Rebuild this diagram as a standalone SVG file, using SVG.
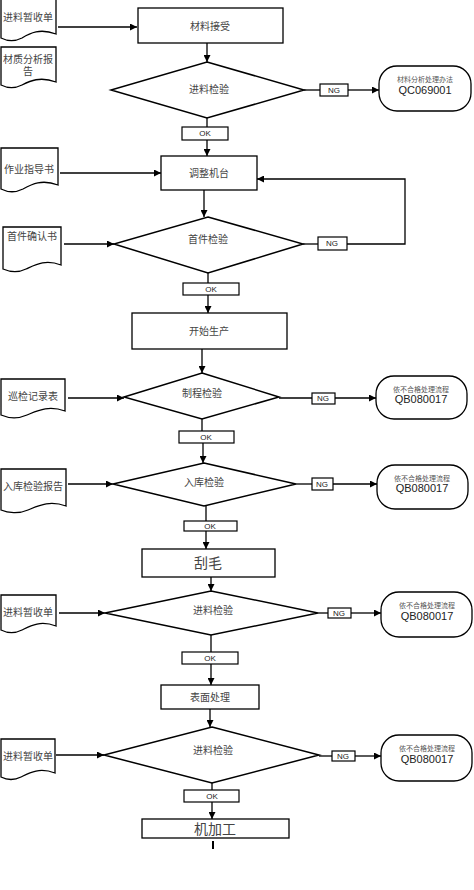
<svg xmlns="http://www.w3.org/2000/svg" width="474" height="890" viewBox="0 0 474 890">
<defs>
<marker id="ah" viewBox="0 0 10 10" refX="10" refY="5" markerWidth="7" markerHeight="7" markerUnits="userSpaceOnUse" orient="auto">
<path d="M0,0 L10,5 L0,10 z" fill="#000"/>
</marker>
<style>
.shape{fill:#fff;stroke:#000;stroke-width:1.3}
.dia{fill:#fff;stroke:#000;stroke-width:1.5}
.lbl{fill:#fff;stroke:#000;stroke-width:1.2}
.ln{fill:none;stroke:#000;stroke-width:1.3}
.arr{fill:none;stroke:#000;stroke-width:1.3;marker-end:url(#ah)}
.cn{font-family:"Liberation Serif","Noto Sans CJK SC",serif;font-size:10px;fill:#444;text-anchor:middle}
.big{font-size:14px}
.sm{font-family:"Liberation Serif","Noto Sans CJK SC",serif;font-size:7px;fill:#555;text-anchor:middle}
.code{font-family:"Liberation Sans",Arial,sans-serif;font-size:11px;fill:#222;text-anchor:middle}
.tag{font-family:"Liberation Sans",Arial,sans-serif;font-size:8px;fill:#222;text-anchor:middle}
</style>
</defs>
<rect width="474" height="890" fill="#fff"/>

<g id="connectors">
<path class="arr" d="M58,27 H137"/>
<path class="arr" d="M207,43 V62"/>
<path class="ln" d="M207,118 V127"/>
<path class="arr" d="M207,140 V156"/>
<path class="ln" d="M304,90 H320"/>
<path class="arr" d="M348,90 H379"/>

<path class="arr" d="M60,173 H161"/>
<path class="arr" d="M204,190 V217"/>
<path class="arr" d="M64,244 H114"/>
<path class="ln" d="M303,244 H318"/>
<path class="arr" d="M347,244 H405 V179 H257"/>
<path class="ln" d="M208,273 V283"/>
<path class="arr" d="M208,295 V313"/>

<path class="arr" d="M202,349 V373"/>
<path class="arr" d="M68,398 H124"/>
<path class="ln" d="M279,398 H312"/>
<path class="arr" d="M335,398 H376"/>
<path class="ln" d="M202,419 V431"/>
<path class="arr" d="M203,443 V463"/>

<path class="arr" d="M68,484 H113"/>
<path class="ln" d="M296,484 H312"/>
<path class="arr" d="M333,484 H377"/>
<path class="ln" d="M206,506 V521"/>
<path class="arr" d="M206,531 V549"/>
<path class="arr" d="M211,577 V591"/>

<path class="arr" d="M59,613 H105"/>
<path class="ln" d="M318,613 H328"/>
<path class="arr" d="M351,613 H381"/>
<path class="ln" d="M211,635 V652"/>
<path class="arr" d="M211,664 V685"/>
<path class="arr" d="M210,709 V727"/>

<path class="arr" d="M56,755 H104"/>
<path class="ln" d="M319,756 H332"/>
<path class="arr" d="M355,756 H381"/>
<path class="ln" d="M212,783 V790"/>
<path class="arr" d="M212,802 V819"/>
<path class="ln" d="M213,841 V849" style="stroke-width:2"/>
</g>

<!-- documents -->
<g id="doc1">
<path class="shape" d="M1,-2 H56 V34 C40,28 30,33 22,38 C14,42 7,41 1,38 Z"/>
<text class="cn" x="28" y="21">进料暂收单</text>
</g>
<g id="doc2">
<path class="shape" d="M1,47 H56 V82 C40,76 30,81 22,85 C14,89 7,88 1,85 Z"/>
<text class="cn" x="28" y="63">材质分析报</text>
<text class="cn" x="28" y="75">告</text>
</g>
<g id="doc3">
<path class="shape" d="M1,148 H58 V185 C42,179 32,184 23,189 C15,193 7,192 1,189 Z"/>
<text class="cn" x="29" y="173">作业指导书</text>
</g>
<g id="doc4">
<path class="shape" d="M3,227 H61 V265 C45,259 35,265 26,269 C18,273 10,272 3,269 Z"/>
<text class="cn" x="32" y="240">首件确认书</text>
</g>
<g id="doc5">
<path class="shape" d="M1,379 H65 V411 C48,405 37,411 27,415 C18,419 8,418 1,415 Z"/>
<text class="cn" x="33" y="400">巡检记录表</text>
</g>
<g id="doc6">
<path class="shape" d="M1,469 H66 V506 C49,500 38,506 28,510 C19,514 8,513 1,510 Z"/>
<text class="cn" x="33" y="490">入库检验报告</text>
</g>
<g id="doc7">
<path class="shape" d="M1,595 H56 V626 C40,620 30,626 22,630 C14,634 7,633 1,630 Z"/>
<text class="cn" x="28" y="616">进料暂收单</text>
</g>
<g id="doc8">
<path class="shape" d="M1,739 H55 V773 C39,767 29,773 21,777 C13,781 7,780 1,777 Z"/>
<text class="cn" x="28" y="760">进料暂收单</text>
</g>

<!-- process boxes -->
<g id="p1"><rect class="shape" x="138" y="8" width="145" height="35"/><text class="cn" x="210" y="30">材料接受</text></g>
<g id="p2"><rect class="shape" x="161" y="156" width="96" height="34"/><text class="cn" x="209" y="177">调整机台</text></g>
<g id="p3"><rect class="shape" x="132" y="313" width="155" height="36"/><text class="cn" x="209" y="335">开始生产</text></g>
<g id="p4"><rect class="shape" x="142" y="549" width="133" height="28"/><text class="cn big" x="208" y="568">刮毛</text></g>
<g id="p5"><rect class="shape" x="161" y="685" width="98" height="24"/><text class="cn" x="210" y="701">表面处理</text></g>
<g id="p6"><rect class="shape" x="142" y="819" width="147" height="19"/><text class="cn big" x="215" y="834">机加工</text></g>

<!-- decisions -->
<g id="d1"><polygon class="dia" points="207,62 304,90 207,118 111,90"/><text class="cn" x="209" y="93">进料检验</text></g>
<g id="d2"><polygon class="dia" points="208,217 303,244 208,273 114,244"/><text class="cn" x="208" y="243">首件检验</text></g>
<g id="d3"><polygon class="dia" points="202,373 279,397 202,419 124,397"/><text class="cn" x="202" y="397">制程检验</text></g>
<g id="d4"><polygon class="dia" points="204,463 296,484 204,506 113,484"/><text class="cn" x="204" y="486">入库检验</text></g>
<g id="d5"><polygon class="dia" points="211,591 318,613 211,635 105,613"/><text class="cn" x="213" y="614">进料检验</text></g>
<g id="d6"><polygon class="dia" points="212,727 319,755 212,783 104,755"/><text class="cn" x="213" y="754">进料检验</text></g>

<!-- NG / OK labels -->
<g id="ng1"><rect class="lbl" x="320" y="84" width="28" height="12"/><text class="tag" x="334" y="93">NG</text></g>
<g id="ok1"><rect class="lbl" x="182" y="127" width="46" height="13"/><text class="tag" x="205" y="136">OK</text></g>
<g id="ng2"><rect class="lbl" x="318" y="237" width="29" height="13"/><text class="tag" x="332" y="246">NG</text></g>
<g id="ok2"><rect class="lbl" x="183" y="283" width="56" height="12"/><text class="tag" x="211" y="292">OK</text></g>
<g id="ng3"><rect class="lbl" x="312" y="393" width="23" height="11"/><text class="tag" x="323" y="401">NG</text></g>
<g id="ok3"><rect class="lbl" x="179" y="431" width="55" height="12"/><text class="tag" x="206" y="440">OK</text></g>
<g id="ng4"><rect class="lbl" x="312" y="478" width="21" height="12"/><text class="tag" x="322" y="487">NG</text></g>
<g id="ok4"><rect class="lbl" x="184" y="521" width="53" height="10"/><text class="tag" x="210" y="529">OK</text></g>
<g id="ng5"><rect class="lbl" x="328" y="608" width="23" height="10"/><text class="tag" x="339" y="616">NG</text></g>
<g id="ok5"><rect class="lbl" x="182" y="652" width="56" height="12"/><text class="tag" x="210" y="661">OK</text></g>
<g id="ng6"><rect class="lbl" x="332" y="751" width="23" height="10"/><text class="tag" x="343" y="759">NG</text></g>
<g id="ok6"><rect class="lbl" x="184" y="790" width="55" height="12"/><text class="tag" x="212" y="799">OK</text></g>

<!-- terminals -->
<g id="t1"><rect class="shape" x="379" y="66" width="92" height="45" rx="18"/><text class="sm" x="425" y="82">材料分析处理办法</text><text class="code" x="425" y="94">QC069001</text></g>
<g id="t3"><rect class="shape" x="376" y="376" width="91" height="43" rx="18"/><text class="sm" x="421" y="392">依不合格处理流程</text><text class="code" x="421" y="403">QB080017</text></g>
<g id="t4"><rect class="shape" x="377" y="465" width="91" height="44" rx="18"/><text class="sm" x="422" y="481">依不合格处理流程</text><text class="code" x="422" y="492">QB080017</text></g>
<g id="t5"><rect class="shape" x="381" y="592" width="91" height="45" rx="18"/><text class="sm" x="427" y="608">依不合格处理流程</text><text class="code" x="427" y="620">QB080017</text></g>
<g id="t6"><rect class="shape" x="381" y="735" width="91" height="46" rx="18"/><text class="sm" x="427" y="751">依不合格处理流程</text><text class="code" x="427" y="763">QB080017</text></g>
</svg>
